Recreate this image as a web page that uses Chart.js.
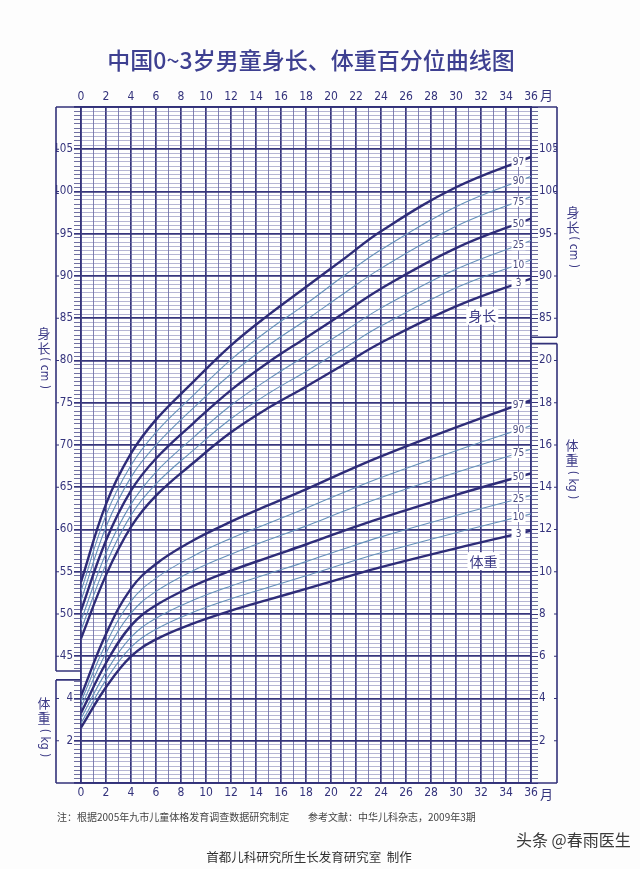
<!DOCTYPE html>
<html><head><meta charset="utf-8">
<script src="https://cdn.jsdelivr.net/npm/chart.js@4.4.1/dist/chart.umd.min.js"></script>
<style>html,body{margin:0;padding:0;background:#fff;}canvas{display:block;}</style>
</head><body>
<canvas id="c" width="640" height="869"></canvas>
<script>
// ---- data ----
const months = [0, 2, 4, 6, 9, 12, 15, 18, 21, 24, 30, 36];
const percentiles = ['3', '10', '25', '50', '75', '90', '97'];
const height3  = [47.1, 54.6, 60.3, 64.0, 67.9, 71.5, 74.4, 76.9, 79.5, 82.1, 86.4, 89.7];
const height10 = [48.1, 55.9, 61.7, 65.4, 69.4, 73.1, 76.1, 78.7, 81.4, 84.1, 88.6, 91.9];
const height25 = [49.2, 57.2, 63.0, 66.8, 70.9, 74.7, 77.8, 80.6, 83.4, 86.2, 90.8, 94.2];
const height50 = [50.4, 58.7, 64.6, 68.4, 72.6, 76.5, 79.8, 82.7, 85.6, 88.5, 93.3, 96.8];
const height75 = [51.6, 60.3, 66.2, 70.0, 74.4, 78.4, 81.8, 84.8, 87.9, 90.9, 95.9, 99.4];
const height90 = [52.7, 61.7, 67.6, 71.5, 75.9, 80.1, 83.6, 86.7, 90.0, 93.1, 98.2, 101.8];
const height97 = [53.8, 63.0, 69.0, 73.0, 77.5, 81.8, 85.4, 88.7, 92.0, 95.3, 100.5, 104.1];
const weight3  = [2.62, 4.53, 5.99, 6.80, 7.56, 8.16, 8.68, 9.19, 9.71, 10.22, 11.11, 11.94];
const weight10 = [2.83, 4.88, 6.43, 7.28, 8.09, 8.72, 9.27, 9.81, 10.37, 10.90, 11.85, 12.74];
const weight25 = [3.06, 5.25, 6.90, 7.80, 8.66, 9.33, 9.91, 10.48, 11.08, 11.65, 12.66, 13.61];
const weight50 = [3.32, 5.68, 7.45, 8.41, 9.33, 10.05, 10.68, 11.29, 11.93, 12.54, 13.64, 14.65];
const weight75 = [3.59, 6.15, 8.04, 9.07, 10.06, 10.83, 11.51, 12.16, 12.86, 13.51, 14.70, 15.80];
const weight90 = [3.85, 6.59, 8.61, 9.70, 10.75, 11.58, 12.30, 13.01, 13.75, 14.46, 15.73, 16.92];
const weight97 = [4.12, 7.05, 9.20, 10.37, 11.49, 12.37, 13.15, 13.90, 14.70, 15.46, 16.83, 18.12];
const heightSeries = [height3, height10, height25, height50, height75, height90, height97];
const weightSeries = [weight3, weight10, weight25, weight50, weight75, weight90, weight97];
const monthTicks = [0, 2, 4, 6, 8, 10, 12, 14, 16, 18, 20, 22, 24, 26, 28, 30, 32, 34, 36];
const heightTicksLeft = [45, 50, 55, 60, 65, 70, 75, 80, 85, 90, 95, 100, 105];
const weightTicksLeft = [2, 4];
const heightTicksRight = [85, 90, 95, 100, 105];
const weightTicksRight = [2, 4, 6, 8, 10, 12, 14, 16, 18, 20];
const title = '中国0~3岁男童身长、体重百分位曲线图';
const note = '注：根据2005年九市儿童体格发育调查数据研究制定';
const ref = '参考文献：中华儿科杂志，2009年3期';
const footer = '首都儿科研究所生长发育研究室  制作';
const watermark = '头条 @春雨医生';

// ---- styles ----
const NAVY = '#34337c';
const THICK = '#2e2c78';
const THIN = '#6490b8';
const TICKFONT = "'DejaVu Sans Condensed','Liberation Sans Narrow','Roboto Condensed','DejaVu Sans',sans-serif";
const CJK = "'Noto Sans CJK SC','Noto Sans',sans-serif";
const isThick = p => p === '3' || p === '50' || p === '97';
// height (cm) and weight (kg) share the grid: cm = 30 + 2.5*kg
const H_MIN = 30, H_MAX = 110, W_MIN = 0, W_MAX = 32;

const near = (v, t) => Math.abs(v - t) < 1e-6;

const datasets = [];
percentiles.forEach((p, i) => {
  datasets.push({
    label: p, yAxisID: 'yH',
    data: months.map((m, j) => ({x: m, y: heightSeries[i][j]})),
    borderColor: isThick(p) ? THICK : THIN, borderWidth: isThick(p) ? 2.4 : 1.1,
    pointRadius: 0, fill: false, tension: 0.4
  });
});
percentiles.forEach((p, i) => {
  datasets.push({
    label: p, yAxisID: 'yW',
    data: months.map((m, j) => ({x: m, y: weightSeries[i][j]})),
    borderColor: isThick(p) ? THICK : THIN, borderWidth: isThick(p) ? 2.4 : 1.1,
    pointRadius: 0, fill: false, tension: 0.4
  });
});

function xGridColor(ctx) { const v = ctx.tick.value; return v % 2 === 0 ? '#37367c' : '#7474aa'; }
function xGridWidth(ctx) { const v = ctx.tick.value; return v % 2 === 0 ? 1.7 : 0.9; }
function isMajorCm(v) { return near(v / 5, Math.round(v / 5)); }

const xTicks = {
  stepSize: 1, autoSkip: false, maxRotation: 0, minRotation: 0, padding: 3,
  color: NAVY, font: {size: 12, family: TICKFONT},
  callback: v => monthTicks.includes(v) ? String(v) : ''
};

const labelPlugin = {
  id: 'labels',
  beforeDraw(chart) {
    const c = chart.ctx; c.save(); c.fillStyle = '#fdfdfd'; c.fillRect(0, 0, chart.width, chart.height);
    const a = chart.chartArea; c.fillStyle = '#ffffff'; c.fillRect(a.left, a.top, a.right - a.left, a.bottom - a.top);
    c.restore();
  },
  afterDatasetsDraw(chart) {
    const c = chart.ctx, xs = chart.scales.x;
    c.save();
    chart.data.datasets.forEach(ds => {
      const ys = chart.scales[ds.yAxisID];
      const n = ds.data.length, p = ds.data[n - 2], q = ds.data[n - 1];
      const m = 35;
      const v = p.y + (q.y - p.y) * (m - p.x) / (q.x - p.x);
      const x = xs.getPixelForValue(m), y = ys.getPixelForValue(v);
      c.fillStyle = '#ffffff'; c.fillRect(x - 7, y - 5, 14, 10);
      c.fillStyle = '#4a4a80'; c.font = '10px ' + TICKFONT;
      c.textAlign = 'center'; c.textBaseline = 'middle';
      c.fillText(ds.label, x, y + 0.5);
    });
    // curve group names
    c.font = '14px ' + CJK; c.textAlign = 'center'; c.textBaseline = 'middle';
    const hx = xs.getPixelForValue(32.1), hy = chart.scales.yH.getPixelForValue(85.3);
    c.fillStyle = '#fff'; c.fillRect(hx - 16, hy - 9, 32, 18);
    c.fillStyle = '#3d3b86'; c.fillText('身长', hx, hy);
    const wx = xs.getPixelForValue(32.2), wy = chart.scales.yW.getPixelForValue(10.5);
    c.fillStyle = '#fff'; c.fillRect(wx - 16, wy - 9, 32, 18);
    c.fillStyle = '#3d3b86'; c.fillText('体重', wx, wy);
    c.restore();
  },
  afterDraw(chart) {
    const c = chart.ctx, a = chart.chartArea, yH = chart.scales.yH, yW = chart.scales.yW, xs = chart.scales.x, xt = chart.scales.x2;
    const L = yH.left, R = yW.right;
    c.save();
    // gaps between label boxes
    const lg1 = yH.getPixelForValue(43.25), lg2 = yH.getPixelForValue(42.2);
    const rg1 = yW.getPixelForValue(21.1), rg2 = yW.getPixelForValue(20.8);
    c.fillStyle = '#fdfdfd';
    c.fillRect(L - 2, lg1 + 1, a.left - L + 1, lg2 - lg1 - 2);
    c.fillRect(a.right + 1.5, rg1 + 1, R - a.right + 2, rg2 - rg1 - 2);
    c.strokeStyle = '#33327a'; c.lineWidth = 1.6;
    c.beginPath();
    c.moveTo(L, a.top); c.lineTo(R, a.top);
    c.moveTo(L, a.bottom); c.lineTo(R, a.bottom);
    c.moveTo(L, a.top); c.lineTo(L, lg1);
    c.moveTo(L, lg2); c.lineTo(L, a.bottom);
    c.moveTo(L, lg1); c.lineTo(a.left, lg1);
    c.moveTo(L, lg2); c.lineTo(a.left, lg2);
    c.moveTo(R, a.top); c.lineTo(R, rg1);
    c.moveTo(R, rg2); c.lineTo(R, a.bottom);
    c.moveTo(a.right, rg1); c.lineTo(R, rg1);
    c.moveTo(a.right, rg2); c.lineTo(R, rg2);
    c.stroke();
    // short dashes at box border for major values
    c.lineWidth = 1.2;
    c.beginPath();
    heightTicksLeft.forEach(v => { const y = yH.getPixelForValue(v); c.moveTo(L, y); c.lineTo(L + 3, y); });
    weightTicksLeft.forEach(v => { const y = yH.getPixelForValue(30 + 2.5 * v); c.moveTo(L, y); c.lineTo(L + 3, y); });
    weightTicksRight.forEach(v => { const y = yW.getPixelForValue(v); c.moveTo(R, y); c.lineTo(R - 3, y); });
    heightTicksRight.forEach(v => { const y = yW.getPixelForValue((v - 30) / 2.5); c.moveTo(R, y); c.lineTo(R - 3, y); });
    c.stroke();
    // 月 after 36
    c.fillStyle = NAVY; c.font = '13px ' + CJK; c.textAlign = 'left'; c.textBaseline = 'middle';
    const x36 = xs.getPixelForValue(36);
    c.fillText('月', x36 + 9, xt.bottom - 12);
    c.fillText('月', x36 + 9, xs.top + 11);
    // title
    c.fillStyle = '#3e4091'; c.font = '500 23px ' + CJK; c.textAlign = 'center'; c.textBaseline = 'middle';
    c.fillText(title, 311, 60);
    // vertical axis titles
    function vtitle(x, y, chars, latin) {
      c.fillStyle = '#3d3b86'; c.font = '13px ' + CJK; c.textAlign = 'center'; c.textBaseline = 'middle';
      let yy = y;
      for (const ch of chars) { c.fillText(ch, x, yy); yy += 15; }
      c.save(); c.translate(x, yy + 10); c.rotate(Math.PI / 2);
      c.font = '12px ' + TICKFONT; c.fillText(latin, 0, 0); c.restore();
    }
    vtitle(44, 333, ['身', '长'], '( cm )');
    vtitle(44, 703, ['体', '重'], '( kg )');
    vtitle(573, 212, ['身', '长'], '( cm )');
    vtitle(572, 445, ['体', '重'], '( kg )');
    // notes
    c.fillStyle = '#444'; c.font = '10px ' + CJK; c.textAlign = 'left'; c.textBaseline = 'middle';
    c.fillText(note, 57, 817);
    c.fillText(ref, 308, 817);
    c.fillStyle = '#333'; c.font = '12.5px ' + CJK; c.textAlign = 'center';
    c.fillText(footer, 309, 857);
    c.fillStyle = '#3a3a3a'; c.font = '16px ' + CJK; c.textAlign = 'left';
    c.fillText(watermark, 516, 840);
    c.restore();
  }
};

new Chart(document.getElementById('c'), {
  type: 'line',
  data: {datasets},
  plugins: [labelPlugin],
  options: {
    responsive: false, animation: false, devicePixelRatio: 1,
    layout: {padding: {left: 56, right: 83, top: 80, bottom: 66}},
    plugins: {legend: {display: false}, title: {display: false}, tooltip: {enabled: false}},
    scales: {
      x: {
        type: 'linear', position: 'bottom', min: 0, max: 36,
        afterFit: s => { s.height = 20; },
        ticks: xTicks,
        grid: {color: xGridColor, lineWidth: xGridWidth, drawTicks: false},
        border: {display: true, color: '#33327a', width: 1.6}
      },
      x2: {
        type: 'linear', position: 'top', min: 0, max: 36,
        afterFit: s => { s.height = 27; },
        ticks: xTicks,
        grid: {display: false, drawTicks: false},
        border: {display: true, color: '#33327a', width: 1.6}
      },
      yH: {
        type: 'linear', position: 'left', min: H_MIN, max: H_MAX,
        afterFit: s => { s.width = 25; },
        ticks: {
          stepSize: 0.5, autoSkip: false, padding: 1, color: NAVY,
          font: {size: 11.5, family: TICKFONT},
          callback: v => {
            const r = Math.round(v * 2) / 2;
            if (heightTicksLeft.includes(r)) return String(r);
            const kg = (r - 30) / 2.5;
            if (weightTicksLeft.includes(kg)) return String(kg);
            return '';
          }
        },
        grid: {
          color: ctx => isMajorCm(ctx.tick.value) ? '#37367c' : 'rgba(110,110,170,0.5)',
          lineWidth: ctx => isMajorCm(ctx.tick.value) ? 1.7 : 1,
          tickColor: ctx => isMajorCm(ctx.tick.value) ? '#37367c' : '#6f6fa0',
          drawTicks: true, tickLength: 7
        },
        border: {display: true, color: '#33327a', width: 1.6}
      },
      yW: {
        type: 'linear', position: 'right', min: W_MIN, max: W_MAX,
        afterFit: s => { s.width = 26; },
        ticks: {
          stepSize: 0.2, autoSkip: false, padding: 1, color: NAVY,
          font: {size: 11.5, family: TICKFONT},
          callback: v => {
            const n = Math.round(v);
            if (!near(v, n)) return '';
            if (weightTicksRight.includes(n)) return String(n);
            const cm = 30 + 2.5 * n;
            if (heightTicksRight.includes(cm)) return String(cm);
            return '';
          }
        },
        grid: {
          drawOnChartArea: false, drawTicks: true, tickLength: 7,
          color: ctx => near(ctx.tick.value / 2, Math.round(ctx.tick.value / 2)) ? '#37367c' : '#6f6fa0',
          lineWidth: 1
        },
        border: {display: true, color: '#33327a', width: 1.6}
      }
    }
  }
});
</script>
</body></html>
